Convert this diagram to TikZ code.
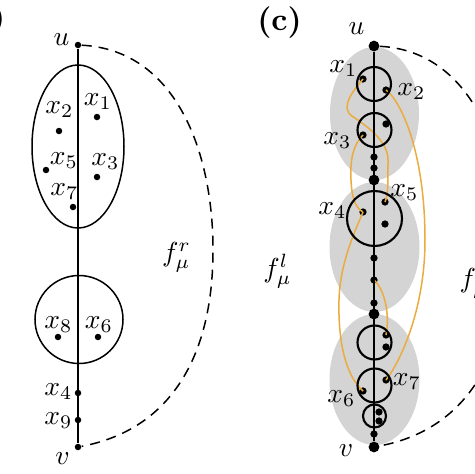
\documentclass[tikz,border=0pt]{standalone}
\usetikzlibrary{calc}
\definecolor{grayfill}{RGB}{212,212,212}
\definecolor{orng}{RGB}{234,172,62}
\begin{document}
\begin{tikzpicture}[x=0.4pt,y=-0.4pt,
  dot/.style={circle,fill=black,inner sep=0pt,minimum size=2.6pt},
  rdot/.style={circle,fill=black,inner sep=0pt,minimum size=2.9pt},
  bigdot/.style={circle,fill=black,inner sep=0pt,minimum size=4.3pt},
  lab/.style={inner sep=0pt,scale=1.1},
  spine/.style={line width=0.55pt},
  ring/.style={line width=0.6pt},
  rring/.style={line width=0.85pt},
  dashcurve/.style={line width=0.6pt,dash pattern=on 4pt off 2.8pt},
  orcurve/.style={draw=orng,line width=0.6pt}]
\useasboundingbox (0,0) rectangle (474,474);

% ---------------- left panel (b) ----------------
\node[lab,anchor=east,font=\bfseries,scale=1.15] (tb) at (6,20) {(b)};
\draw[ring] (78,146.5) ellipse [x radius=46, y radius=81.5];
\draw[ring] (79,319.5) circle [radius=44];
\node[dot] (lu) at (78,45) {};
\node[dot] (lv) at (78,447) {};
\draw[spine] (lu) -- (lv);
\node[dot] (lx1) at (97,117) {};
\node[dot] (lx2) at (59,131) {};
\node[dot] (lx5) at (46,170) {};
\node[dot] (lx3) at (97,177) {};
\node[dot] (lx7) at (73,207) {};
\node[dot] (lx8) at (58,337) {};
\node[dot] (lx6) at (98,337) {};
\node[dot] (lx4) at (78,393) {};
\node[dot] (lx9) at (78,420) {};
\node[lab] (tlu) at (61.5,40) {$u$};
\node[lab] (tlv) at (62.5,459) {$v$};
\node[lab] (tlx1) at (98,102) {$x_1$};
\node[lab] (tlx2) at (59.5,110) {$x_2$};
\node[lab] (tlx5) at (64,161) {$x_5$};
\node[lab] (tlx3) at (105.5,162) {$x_3$};
\node[lab] (tlx7) at (64.5,192) {$x_7$};
\node[lab] (tlx8) at (58.5,325) {$x_8$};
\node[lab] (tlx6) at (99,325) {$x_6$};
\node[lab] (tlx4) at (58.5,392) {$x_4$};
\node[lab] (tlx9) at (58.5,421) {$x_9$};
\node[lab] (tlf) at (176.5,257.5) {$f^r_\mu$};
\draw[dashcurve] (lu) .. controls (175,50) and (213,150) .. (213,250)
   .. controls (213,360) and (168,430) .. (lv);

% ---------------- right panel (c) ----------------
\node[lab,font=\bfseries,scale=1.15] (tc) at (279.5,22.5) {(c)};
\fill[grayfill] (374.5,113.5) ellipse [x radius=44.5, y radius=66.5];
\fill[grayfill] (374.5,247) ellipse [x radius=45, y radius=65];
\fill[grayfill] (374.5,379.5) ellipse [x radius=45, y radius=65.5];

\node[bigdot] (ru) at (374,46) {};
\node[bigdot] (rv) at (374,447) {};
\node[bigdot] (rj1) at (374,180) {};
\node[bigdot] (rj2) at (374,314) {};
\node[rdot] (rd1) at (374,157) {};
\node[rdot] (rd2) at (374,168) {};
\node[rdot] (rd3) at (374,258) {};
\node[rdot] (rd4) at (374,280) {};
\node[rdot] (rd5) at (374,303) {};
\node[rdot] (rd6) at (374,434) {};

\node[rdot] (rx1) at (363,79) {};
\node[rdot] (rx2) at (386,90) {};
\node[rdot] (rc2a) at (386,124) {};
\node[rdot] (rx3) at (363,135) {};
\node[rdot] (rx4) at (363,212) {};
\node[rdot] (rx5) at (385,202) {};
\node[rdot] (rc3b) at (385,224) {};
\node[rdot] (rc4a) at (386,335) {};
\node[rdot] (rc4b) at (386,347) {};
\node[rdot] (rx7) at (386,380) {};
\node[rdot] (rx6) at (363,391) {};
\node[rdot] (rc6a) at (379,412) {};
\node[rdot] (rc6b) at (379,421) {};

% orange connectors
\draw[orcurve] (rx1.center) .. controls (352,92) and (340,108) .. (352,116)
   .. controls (365,125) and (388,140) .. (388,160)
   .. controls (388,185) and (388,195) .. (rx5.center);
\draw[orcurve] (rx2.center) .. controls (400,100) and (425,150) .. (425,240)
   .. controls (425,310) and (400,362) .. (rx7.center);
\draw[orcurve] (rx3.center) .. controls (353,145) and (350,160) .. (351,180)
   .. controls (352,200) and (356,208) .. (rx4.center);
\draw[orcurve] (rx4.center) .. controls (358,225) and (340,260) .. (339,300)
   .. controls (338,340) and (345,375) .. (rx6.center);
\draw[orcurve] (rd4.center) .. controls (385,290) and (390,315) .. (rc4a.center);

\draw[spine] (ru) -- (rv);
\draw[rring] (374,84) circle [radius=17];
\draw[rring] (374.5,130) circle [radius=17];
\draw[rring] (374.5,218.5) circle [radius=27.5];
\draw[rring] (374.5,342.5) circle [radius=17];
\draw[rring] (374.5,385.5) circle [radius=17];
\draw[rring] (374.5,416) circle [radius=11.5];

\node[lab] (tru) at (356.5,29) {$u$};
\node[lab] (trv) at (346,450.5) {$v$};
\node[lab] (trx1) at (343.5,69) {$x_1$};
\node[lab] (trx2) at (411.5,92) {$x_2$};
\node[lab] (trx3) at (337.5,140.5) {$x_3$};
\node[lab] (trx4) at (332.5,211) {$x_4$};
\node[lab] (trx5) at (404.5,193) {$x_5$};
\node[lab] (trx7) at (407,381.5) {$x_7$};
\node[lab] (trx6) at (341.5,399) {$x_6$};
\node[lab] (trfl) at (277.5,271) {$f^l_\mu$};
\node[lab] (trfr) at (474,283) {$f^r_\mu$};
\draw[dashcurve] (ru) .. controls (471,51) and (509,151) .. (509,250)
   .. controls (509,360) and (464,430) .. (rv);
\end{tikzpicture}
\end{document}
